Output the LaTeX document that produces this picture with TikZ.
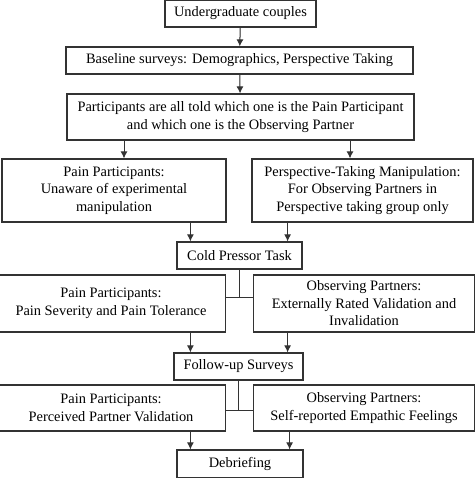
\documentclass[tikz,border=0pt]{standalone}
\usepackage{fontspec}
\setmainfont{Liberation Serif}
\usetikzlibrary{shapes.geometric, arrows, arrows.meta, positioning}
\begin{document}
\begin{tikzpicture}[x=1pt, y=-1pt, every node/.style={font=\fontsize{14.4}{17.5}\selectfont}]
% Define styles
\tikzstyle{stage} = [rectangle, minimum height=27pt, inner sep=0pt, align=center, draw=black!80, line width=1.2pt]
\tikzstyle{arrow} = [->,>={Latex[length=7pt,width=7pt]},line width=1pt,draw=black!80,fill=black!80]
\tikzstyle{link} = [line width=1pt,draw=black!80]
\useasboundingbox (0,0) rectangle (474,478);
% Place nodes
\node (couples) [stage, minimum width=151pt, minimum height=27pt] at (240.5,13.5) {Undergraduate couples};
\node (baseline) [stage, minimum width=347pt] at (239.5,60.5) {Baseline surveys: Demographics, Perspective Taking};
\node (told) [stage, minimum width=347pt, minimum height=46pt] at (240.5,117) {Participants are all told which one is the Pain Participant\\and which one is the Observing Partner};
\node (painA) [stage, minimum width=224pt, minimum height=63pt] at (114,190.5) {Pain Participants:\\Unaware of experimental\\manipulation};
\node (obsA) [stage, minimum width=221pt, minimum height=63pt] at (362.5,190.5) {Perspective-Taking Manipulation:\\For Observing Partners in\\Perspective taking group only};
\node (cold) [stage, minimum width=125pt] at (239.5,255.5) {Cold Pressor Task};
\node (painB) [stage, minimum width=229pt, minimum height=57pt] at (111,303.5) {Pain Participants:\\Pain Severity and Pain Tolerance};
\node (obsB) [stage, minimum width=221pt, minimum height=57pt] at (364,303.5) {Observing Partners:\\Externally Rated Validation and\\Invalidation};
\node (follow) [stage, minimum width=129pt] at (238.5,366.5) {Follow-up Surveys};
\node (painC) [stage, minimum width=229pt, minimum height=46pt] at (111,408) {Pain Participants:\\Perceived Partner Validation};
\node (obsC) [stage, minimum width=221pt, minimum height=46pt] at (364,408) {Observing Partners:\\Self-reported Empathic Feelings};
\node (debrief) [stage, minimum width=126pt, minimum height=28pt] at (240,464) {Debriefing};
\coordinate (jB) at (cold.south |- 0,297);
\coordinate (jC) at (follow.south |- 0,410);
% Draw arrows
\draw [arrow] (couples) -- (baseline);
\draw [arrow] (baseline) -- (told);
\draw [arrow] ([xshift=10pt]painA.north |- told.south) -- ([xshift=10pt]painA.north);
\draw [arrow] ([xshift=-12.5pt]obsA.north |- told.south) -- ([xshift=-12.5pt]obsA.north);
\draw [arrow] ([xshift=14pt]cold.north west |- painA.south) -- ([xshift=14pt]cold.north west);
\draw [arrow] ([xshift=-15pt]cold.north east |- obsA.south) -- ([xshift=-15pt]cold.north east);
\draw [link] (cold) -- (jB);
\draw [link] (painB.east |- jB) -- (obsB.west |- jB);
\draw [arrow] ([xshift=17pt]follow.north west |- painB.south) -- ([xshift=17pt]follow.north west);
\draw [arrow] ([xshift=-16pt]follow.north east |- obsB.south) -- ([xshift=-16pt]follow.north east);
\draw [link] (follow) -- (jC);
\draw [link] (painC.east |- jC) -- (obsC.west |- jC);
\draw [arrow] ([xshift=14pt]debrief.north west |- painC.south) -- ([xshift=14pt]debrief.north west);
\draw [arrow] ([xshift=-14pt]debrief.north east |- obsC.south) -- ([xshift=-14pt]debrief.north east);
\end{tikzpicture}
\end{document}
